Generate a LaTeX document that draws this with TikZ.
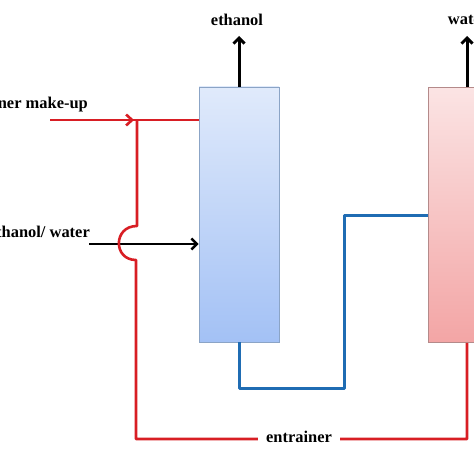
\documentclass[tikz,border=0pt]{standalone}
\usepackage{fontspec}
\setmainfont{Liberation Serif}
\usetikzlibrary{arrows.meta}
\definecolor{blueTop}{HTML}{E0EAFB}
\definecolor{blueBot}{HTML}{A3C1F5}
\definecolor{blueEdge}{HTML}{8BA4C6}
\definecolor{redTop}{HTML}{FBE4E4}
\definecolor{redBot}{HTML}{F3A5A5}
\definecolor{redEdge}{HTML}{B48A8A}
\definecolor{pipeRed}{HTML}{D81E24}
\definecolor{pipeBlue}{HTML}{1F6CB3}
\tikzset{
  col/.style={rectangle, minimum width=80bp, minimum height=255bp, inner sep=0pt, draw=#1, line width=0.7bp},
  lbl/.style={font=\fontsize{16.5}{18}\selectfont\bfseries, inner sep=0pt},
  blk/.style={line width=3bp, black, -{Straight Barb[length=5.5bp,width=11bp]}},
  blkfeed/.style={line width=2.5bp, black, -{Straight Barb[length=5.5bp,width=11bp]}},
  redpipe/.style={line width=2.6bp, pipeRed, line join=round},
  bluepipe/.style={line width=3bp, pipeBlue, line join=round},
}
\begin{document}
\begin{tikzpicture}[x=1bp, y=-1bp]
\useasboundingbox (0,0) rectangle (474,474);
\clip (0,0) rectangle (474,474);
% columns
\node[col=blueEdge, top color=blueTop, bottom color=blueBot] (c1) at (239,214.5) {};
\node[col=redEdge, top color=redTop, bottom color=redBot] (c2) at (468,215) {};
% top products
\coordinate (e1) at (239,36);
\coordinate (w1) at (467,36);
\node[lbl] (etl) at (237,20) {ethanol};
\node[lbl] (wtl) at (468,20) {water};
\draw[blk] (c1.north) -- (e1);
\draw[blk] (c2.north -| w1) -- (w1);
% entrainer make-up
\coordinate (mu) at (50,120);
\coordinate (j) at (137,120);
\node[lbl, anchor=east] (mul) at (88,105) {entrainer make-up};
\draw[redpipe] (mu) -- (j) -- (c1.west |- j);
\draw[redpipe, -{Straight Barb[length=6bp,width=11bp]}] (mu) -- (134,120);
% feed
\coordinate (f) at (89,244);
\node[lbl, anchor=east] (fl) at (90,232) {ethanol/ water};
\draw[blkfeed] (f) -- (c1.west |- f);
% blue connection
\coordinate (b1) at (344,388);
\coordinate (b2) at (344,216);
\draw[bluepipe] (c1.south) -- (c1.south |- b1) -- (b1) -- (b2) -- (c2.west |- b2);
% entrainer recycle
\coordinate (r1) at (467,439);
\coordinate (r2) at (136,439);
\draw[redpipe] (c2.south -| r1) -- (r1) -- (r2) -- (136,260)
  .. controls (113,260) and (113,226) .. (137,226) -- (j);
\node[lbl, fill=white, inner xsep=8bp, inner ysep=3bp] (el) at (299,437) {entrainer};
\end{tikzpicture}
\end{document}
